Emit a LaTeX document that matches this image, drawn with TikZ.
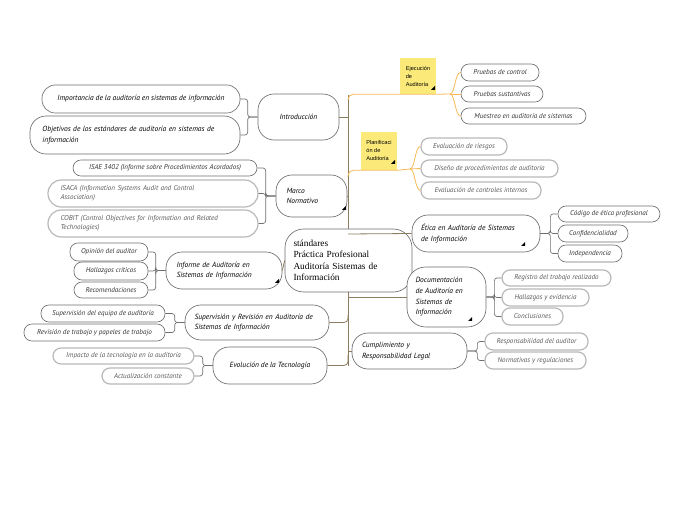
\documentclass[tikz,border=0pt]{standalone}
\usepackage{fontspec}
\setmainfont{Liberation Serif}
\newfontfamily\hand{PT Sans}
\newfontfamily\plain{Liberation Sans}
\definecolor{lgray}{HTML}{B8B8B8}
\definecolor{dgray}{HTML}{6E6E6E}
\definecolor{spinec}{HTML}{8C7C60}
\definecolor{orng}{HTML}{F7B955}
\definecolor{ylw}{HTML}{FBEA7A}
\newcommand\mmbox[7]{\node[#6, minimum width={(#4-#2)*0.75pt}, minimum height={(#5-#3)*0.75pt}] (#1) at ({(#2+#4)/2},{(#3+#5)/2}) {#7};}
\newcommand\tri[2]{\fill (#1,#2) -- ++(-4,0) -- ++(4,-4) -- cycle;}
\tikzset{
 leaf/.style={draw=dgray, line width=0.5pt, rounded corners=6pt, inner sep=1pt, font=\hand\itshape\fontsize{5.3}{6.5}\selectfont, text=black!80},
 leafg/.style={leaf, draw=lgray, line width=0.9pt, text=black!65},
 main/.style={draw=dgray, fill=white, line width=0.5pt, rounded corners=12pt, inner sep=1pt, font=\hand\itshape\fontsize{5.6}{8}\selectfont},
 yel/.style={fill=ylw, inner sep=1pt, font=\plain\fontsize{4.2}{6}\selectfont, align=left},
 conn/.style={draw=dgray, line width=0.5pt, rounded corners=2pt},
 sconn/.style={draw=spinec, line width=0.6pt, rounded corners=3pt},
 oconn/.style={draw=orng, line width=0.6pt},
}
\begin{document}
\begin{tikzpicture}[x=0.75pt,y=-0.75pt]
\useasboundingbox (0,0) rectangle (697,520);
% spine
\coordinate (sT) at (348,95);
\coordinate (sB) at (348,366);
\draw[sconn] (sT) -- (sB);
% central
\mmbox{c}{285}{229}{412}{292}{main, rounded corners=14pt, font=\fontsize{7}{8.6}\selectfont, align=left, text width={110*0.75pt}}{st\'andares\\Pr\'actica Profesional\\Auditor\'ia Sistemas de\\Informaci\'on}
% left mains
\mmbox{intro}{258}{94}{339}{140}{main}{Introducci\'on}
\mmbox{marco}{276}{175}{347}{217}{main, align=left, text width={50*0.75pt}}{Marco\\Normativo}
\mmbox{inf}{166}{252}{282}{289}{main, align=left, text width={95*0.75pt}}{Informe de Auditor\'ia en\\Sistemas de Informaci\'on}
\mmbox{sup}{185}{305}{329}{340}{main, align=left, text width={125*0.75pt}}{Supervisi\'on y Revisi\'on en Auditor\'ia de\\Sistemas de Informaci\'on}
\mmbox{evo}{213}{347}{327}{384}{main}{Evoluci\'on de la Tecnolog\'ia}
% left leaves
\mmbox{imp}{42}{85}{240}{113}{main, rounded corners=10pt}{Importancia de la auditor\'ia en sistemas de informaci\'on}
\mmbox{obj}{30}{116}{240}{154}{main, rounded corners=12pt, align=left, text width={185*0.75pt}}{Objetivos de los est\'andares de auditor\'ia en sistemas de\\informaci\'on}
\mmbox{isae}{73}{160}{257}{176}{leaf}{ISAE 3402 (Informe sobre Procedimientos Acordados)}
\mmbox{isaca}{48}{180}{258}{207}{leafg, rounded corners=10pt, align=left, text width={185*0.75pt}}{ISACA (Information Systems Audit and Control\\Association)}
\mmbox{cobit}{48}{210}{258}{237}{leafg, rounded corners=10pt, align=left, text width={185*0.75pt}}{COBIT (Control Objectives for Information and Related\\Technologies)}
\mmbox{opi}{70}{243}{148}{261}{leaf}{Opini\'on del auditor}
\mmbox{hal}{74}{262}{148}{280}{leaf}{Hallazgos cr\'iticos}
\mmbox{rec}{74}{282}{148}{298}{leaf}{Recomendaciones}
\mmbox{seq}{41}{305}{165}{322}{leaf}{Supervisi\'on del equipo de auditor\'ia}
\mmbox{rev}{24}{324}{165}{341}{leaf}{Revisi\'on de trabajo y papeles de trabajo}
\mmbox{ipc}{53}{348}{194}{364}{leafg}{Impacto de la tecnolog\'ia en la auditor\'ia}
\mmbox{act}{102}{368}{194}{384}{leafg}{Actualizaci\'on constante}
% right yellow
\mmbox{eje}{400}{58}{436}{94}{yel}{Ejecuci\'on\\de\\Auditor\'ia}
\mmbox{pla}{361}{132}{397}{170}{yel}{Planificaci\\\'on de\\Auditor\'ia}
\mmbox{pc}{461}{64}{539}{81}{leaf}{Pruebas de control}
\mmbox{ps}{461}{86}{543}{102}{leaf}{Pruebas sustantivas}
\mmbox{mue}{461}{108}{586}{124}{leaf}{Muestreo en auditor\'ia de sistemas}
\mmbox{er}{421}{138}{507}{155}{leafg}{Evaluaci\'on de riesgos}
\mmbox{dis}{421}{160}{558}{177}{leafg}{Dise\~no de procedimientos de auditor\'ia}
\mmbox{eci}{421}{182}{541}{199}{leafg}{Evaluaci\'on de controles internos}
% right mains
\mmbox{eti}{412}{215}{540}{252}{main, align=left, text width={110*0.75pt}}{\'Etica en Auditor\'ia de Sistemas\\de Informaci\'on}
\mmbox{doc}{407}{267}{486}{327}{main, rounded corners=14pt, align=left, text width={62*0.75pt}}{Documentaci\'on\\de Auditor\'ia en\\Sistemas de\\Informaci\'on}
\mmbox{cum}{352}{333}{467}{369}{main, align=left, text width={95*0.75pt}}{Cumplimiento y\\Responsabilidad Legal}
\mmbox{cod}{558}{206}{660}{222}{leaf}{C\'odigo de \'etica profesional}
\mmbox{con}{558}{225}{628}{242}{leaf}{Confidencialidad}
\mmbox{ind}{558}{245}{622}{262}{leaf}{Independencia}
\mmbox{reg}{502}{270}{611}{286}{leafg}{Registro del trabajo realizado}
\mmbox{hev}{502}{289}{589}{306}{leafg}{Hallazgos y evidencia}
\mmbox{clu}{502}{308}{563}{325}{leafg}{Conclusiones}
\mmbox{res}{485}{333}{588}{350}{leafg}{Responsabilidad del auditor}
\mmbox{nor}{485}{352}{586}{369}{leafg}{Normativas y regulaciones}
% markers
\tri{346}{210}\tri{279}{283}\tri{525}{246}\tri{472}{321}\tri{435}{90}\tri{395}{164}
% spine connections
\draw[sconn] (intro.east) -- (348,117);
\draw[sconn] (marco.east) -- (348,196);
\draw[sconn] (inf.east) -- (c.west);
\draw[sconn] (sup.east) -| (348,315);
\draw[sconn] (evo.east) -| (348,355);
\draw[sconn] (348,234) -- (eti.west);
\draw[sconn] (348,297) -- (doc.west);
\draw[sconn] (348,351) -- (cum.west);
% orange branches
\draw[oconn, rounded corners=4pt] (348,100) |- (eje.south west) -- (eje.south east);
\draw[oconn] (eje.south east) -- (450,94);
\draw[oconn] (450,94) .. controls (455,94) and (455,72) .. (pc.west);
\draw[oconn] (450,94) -- (ps.west);
\draw[oconn] (450,94) .. controls (455,94) and (455,116) .. (mue.west);
\draw[oconn, rounded corners=4pt] (348,175) |- (pla.south west) -- (pla.south east);
\draw[oconn] (pla.south east) -- (410,169);
\draw[oconn] (410,169) .. controls (415,169) and (415,146) .. (er.west);
\draw[oconn] (410,169) -- (dis.west);
\draw[oconn] (410,169) .. controls (415,169) and (415,190) .. (eci.west);
% left brackets
\foreach \l in {imp,obj} \draw[conn] (intro.west) -- ++(-10,0) |- (\l.east);
\foreach \l in {isae,isaca,cobit} \draw[conn] (marco.west) -- ++(-10,0) |- (\l.east);
\foreach \l in {opi,hal,rec} \draw[conn] (inf.west) -- ++(-10,0) |- (\l.east);
\foreach \l in {seq,rev} \draw[conn] (sup.west) -- ++(-10,0) |- (\l.east);
\foreach \l in {ipc,act} \draw[conn] (evo.west) -- ++(-10,0) |- (\l.east);
% right brackets
\foreach \l in {cod,con,ind} \draw[conn] (eti.east) -- ++(10,0) |- (\l.west);
\foreach \l in {reg,hev,clu} \draw[conn] (doc.east) -- ++(8,0) |- (\l.west);
\foreach \l in {res,nor} \draw[conn] (cum.east) -- ++(10,0) |- (\l.west);
\end{tikzpicture}
\end{document}
